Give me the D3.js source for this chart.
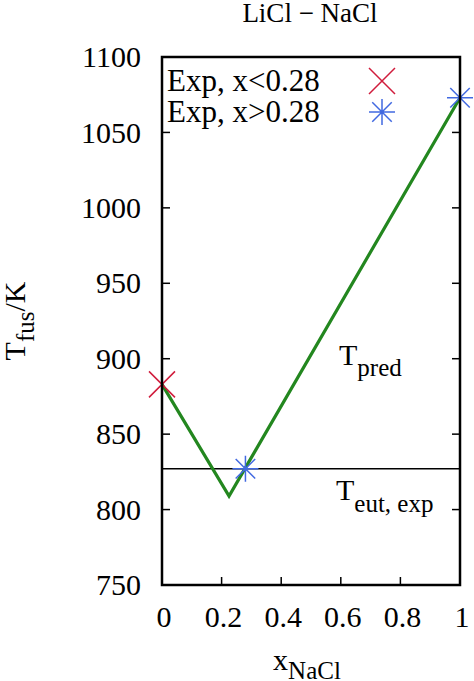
<!DOCTYPE html>
<html>
<head>
<meta charset="utf-8">
<script src="https://cdn.jsdelivr.net/npm/d3@7"></script>
<style>
  body { margin: 0; background: #fff; }
  svg { display: block; }
  svg text { font-family: "Liberation Serif", "DejaVu Serif", serif; fill: #000; }
</style>
</head>
<body>
<svg id="chart" width="474" height="681"></svg>
<script>
// data
const expLowX = [0];
const expLowT = [883];
const expHighX = [0.28, 1];
const expHighT = [827, 1073];
const predX = [0, 0.225, 1];
const predT = [883, 809, 1073];
const tEutExp = 827;
const xTicks = [0, 0.2, 0.4, 0.6, 0.8, 1];
const yTicks = [750, 800, 850, 900, 950, 1000, 1050, 1100];
const legendLabels = ["Exp, x<0.28", "Exp, x>0.28"];

const red = "#d01c3c";
const blue = "#4169e1";
const green = "#23871f";

const svg = d3.select("#chart");
const margin = { left: 162, right: 14, top: 57, bottom: 96 };
const W = 474, H = 681;

const x = d3.scaleLinear().domain([0, 1]).range([margin.left, W - margin.right]);
const y = d3.scaleLinear().domain([750, 1100]).range([H - margin.bottom, margin.top]);

const fs = 30;
const subFs = 25;

// ticks (inside), left/bottom + mirrored on right
const tickLen = 8;
const g = svg.append("g");
yTicks.forEach(t => {
  g.append("line").attr("x1", x(0)).attr("x2", x(0) + tickLen)
    .attr("y1", y(t)).attr("y2", y(t)).attr("stroke", "#000").attr("stroke-width", 1.5);
  g.append("line").attr("x1", x(1)).attr("x2", x(1) - tickLen)
    .attr("y1", y(t)).attr("y2", y(t)).attr("stroke", "#000").attr("stroke-width", 1.5);
  svg.append("text").attr("x", x(0) - 21).attr("y", y(t)).attr("dy", "0.34em")
    .attr("text-anchor", "end").attr("font-size", fs).text(t);
});
xTicks.forEach(t => {
  g.append("line").attr("x1", x(t)).attr("x2", x(t))
    .attr("y1", y(750)).attr("y2", y(750) - tickLen).attr("stroke", "#000").attr("stroke-width", 1.5);
  svg.append("text").attr("x", x(t) + 2).attr("y", 627)
    .attr("text-anchor", "middle").attr("font-size", fs).text(d3.format("~g")(t));
});

// eutectic line
svg.append("line")
  .attr("x1", x(0)).attr("x2", x(1))
  .attr("y1", y(tEutExp)).attr("y2", y(tEutExp))
  .attr("stroke", "#000").attr("stroke-width", 1.5);

// predicted liquidus
const line = d3.line().x(d => x(d[0])).y(d => y(d[1]));
svg.append("path")
  .datum(d3.zip(predX, predT))
  .attr("d", line)
  .attr("fill", "none")
  .attr("stroke", green)
  .attr("stroke-width", 3.2);

// markers
const crossPath = r => `M${-r},${-r}L${r},${r}M${-r},${r}L${r},${-r}`;
const starPath = r => {
  const d = r * 0.75;
  return `M${-r},0L${r},0M0,${-r}L0,${r}M${-d},${-d}L${d},${d}M${-d},${d}L${d},${-d}`;
};
const mr = 13;

svg.selectAll(".lowpt")
  .data(d3.zip(expLowX, expLowT))
  .join("path")
  .attr("class", "lowpt")
  .attr("transform", d => `translate(${x(d[0])},${y(d[1])})`)
  .attr("d", crossPath(mr))
  .attr("stroke", red).attr("stroke-width", 1.5).attr("fill", "none");

svg.selectAll(".highpt")
  .data(d3.zip(expHighX, expHighT))
  .join("path")
  .attr("class", "highpt")
  .attr("transform", d => `translate(${x(d[0])},${y(d[1])})`)
  .attr("d", starPath(mr))
  .attr("stroke", blue).attr("stroke-width", 1.5).attr("fill", "none");

// border
svg.append("rect")
  .attr("x", x(0)).attr("y", y(1100))
  .attr("width", x(1) - x(0)).attr("height", y(750) - y(1100))
  .attr("fill", "none").attr("stroke", "#000").attr("stroke-width", 2.5);

// legend
const legY = [81, 112];
legendLabels.forEach((lab, i) => {
  svg.append("text").attr("x", 167).attr("y", legY[i]).attr("dy", "0.32em")
    .attr("font-size", 31).text(lab);
  svg.append("path")
    .attr("transform", `translate(382,${legY[i]})`)
    .attr("d", i === 0 ? crossPath(mr) : starPath(mr))
    .attr("stroke", i === 0 ? red : blue).attr("stroke-width", 1.5).attr("fill", "none");
});

// text with subscript
const subText = (sel, main, sub, rest, shift) => {
  sel.append("tspan").text(main);
  sel.append("tspan").attr("font-size", subFs).attr("dy", shift).text(sub);
  if (rest) sel.append("tspan").attr("dy", -shift).text(rest);
  return sel;
};

subText(svg.append("text").attr("x", 339).attr("y", 365).attr("font-size", fs),
  "T", "pred", null, 11);
subText(svg.append("text").attr("x", 336).attr("y", 500).attr("font-size", fs),
  "T", "eut, exp", null, 12);

// title
svg.append("text").attr("x", 310).attr("y", 22).attr("text-anchor", "middle")
  .attr("font-size", 27).text("LiCl \u2212 NaCl");

// axis labels
subText(svg.append("text").attr("x", 307).attr("y", 670).attr("text-anchor", "middle")
  .attr("font-size", fs), "x", "NaCl", null, 9);

subText(svg.append("text")
  .attr("transform", "translate(25,321) rotate(-90)")
  .attr("text-anchor", "middle").attr("font-size", fs), "T", "fus", "/K", 9);
</script>
</body>
</html>
